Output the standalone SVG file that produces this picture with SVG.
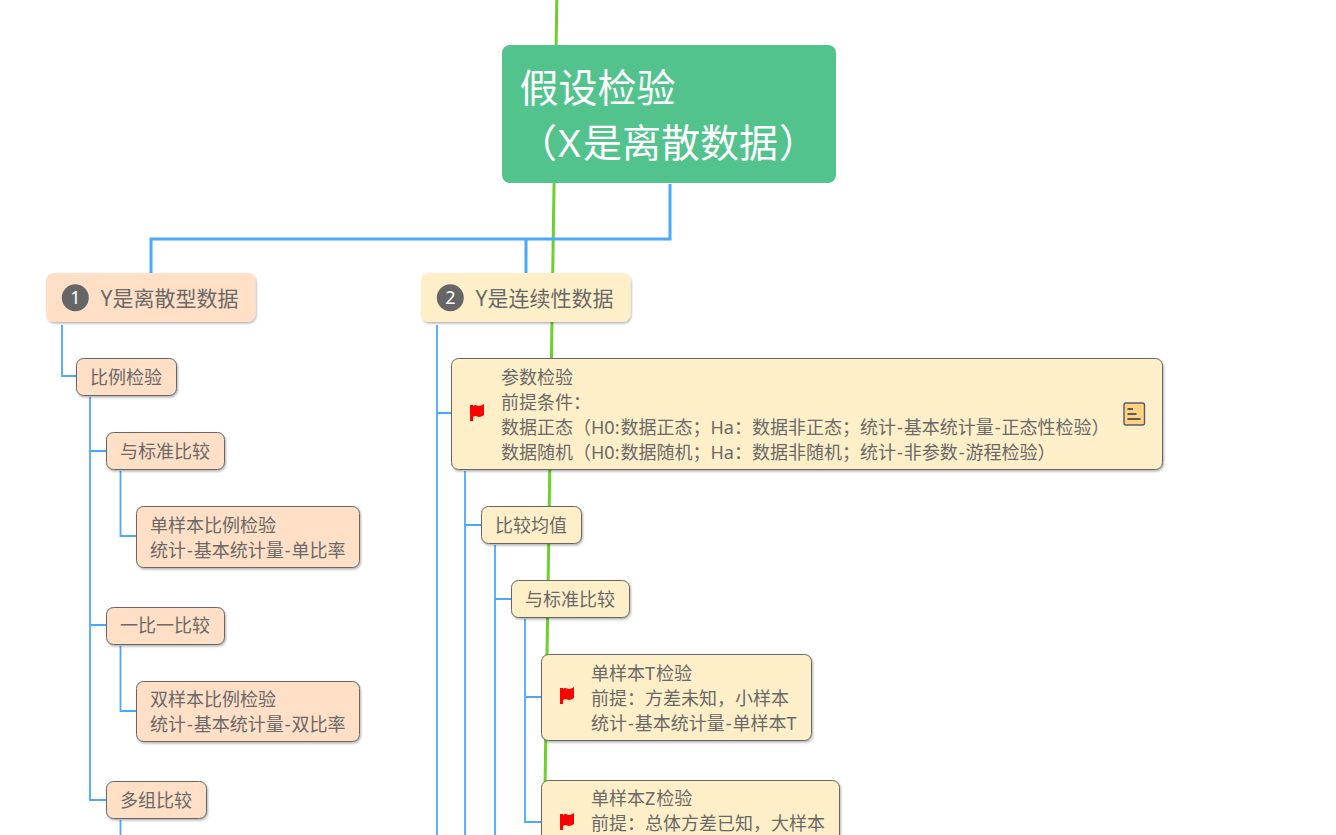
<svg xmlns="http://www.w3.org/2000/svg" width="1336" height="835" viewBox="0 0 1336 835">
<style>
text{font-family:"Noto Sans","Noto Sans CJK SC",sans-serif;fill:#696969;font-size:18px}
.n{stroke:#666;stroke-width:1;filter:url(#s)}
.o{fill:#ffdfc5}.y{fill:#ffefc8}
.c{fill:none;stroke:#4aa8ff;stroke-width:1.800}
.m{fill:none;stroke:#4aa8ff;stroke-width:3}
.b{fill:#666}
.f{fill:#f00}
.h{letter-spacing:1px}
.t{letter-spacing:1px}
.r{font-size:39px;fill:#fff}
.d{fill:#fff;font-size:18px}
.l{font-size:21px}
</style>
<defs>
<filter id="s" x="-5%" y="-10%" width="110%" height="125%"><feDropShadow dx="1" dy="1.5" stdDeviation="1" flood-color="#000" flood-opacity="0.3"/></filter>
<path id="flag" class="f" d="M0 0h3v1c3-2 4 0 6 0s3-1 5-2v11c-2 1-3 2-5 2s-3-2-6 0v4h-3z"/>
</defs>
<g id="connectors">
<path d="M556.800 0L544.300 835" fill="none" stroke="#6fcf2e" stroke-width="3"/>
<path class="m" d="M670 184V239H151V273M526 239V273"/>
<path class="c" d="M62 325V376H77M90 397V800H107M90 451H107M90 625H107M120.500 471V536H137M120.500 646V711H137M120.500 820V835"/>
<path class="c" d="M437 325V835M437 413H452M465 471V835M465 525H482M495 545V835M495 599H512M525 619V822H542M525 697H542"/>
</g>
<g id="root"><rect x="502" y="45" width="334" height="138" rx="8" fill="#52c38d"/>
<text x="519.500" y="102" class="r">假设检验</text>
<text y="157" class="r"><tspan x="518">（</tspan><tspan x="558">X</tspan><tspan x="583">是离散数据</tspan><tspan x="779">）</tspan></text></g>
<g id="n1"><rect x="46" y="273" width="209.500" height="49" rx="8" class="o" filter="url(#s)"/><circle cx="75.300" cy="297.700" r="13.500" class="b"/><text x="75.300" y="304" text-anchor="middle" class="d">1</text><text x="100.500" y="306" class="l">Y是离散型数据</text></g>
<g id="n2"><rect x="421" y="273" width="209.500" height="49" rx="8" class="y" filter="url(#s)"/><circle cx="450.300" cy="297.700" r="13.500" class="b"/><text x="450.300" y="304" text-anchor="middle" class="d">2</text><text x="475.500" y="306" class="l">Y是连续性数据</text></g>
<g id="a1"><rect x="76.500" y="358.500" width="100" height="37" rx="7" class="n o"/><text x="90" y="384">比例检验</text></g>
<g id="a2"><rect x="106.500" y="432.500" width="118" height="37" rx="7" class="n o"/><text x="120" y="458">与标准比较</text></g>
<g id="a3"><rect x="136.500" y="506.500" width="223" height="61" rx="7" class="n o"/><text x="150" y="532">单样本比例检验</text><text x="150" y="557">统计<tspan class="h" dx="1">-</tspan>基本统计量<tspan class="h" dx="1">-</tspan>单比率</text></g>
<g id="a4"><rect x="106.500" y="607.500" width="118" height="37" rx="7" class="n o"/><text x="120" y="632">一比一比较</text></g>
<g id="a5"><rect x="136.500" y="681.500" width="223" height="60" rx="7" class="n o"/><text x="150" y="706">双样本比例检验</text><text x="150" y="731">统计<tspan class="h" dx="1">-</tspan>基本统计量<tspan class="h" dx="1">-</tspan>双比率</text></g>
<g id="a6"><rect x="106.500" y="781.500" width="100" height="37" rx="7" class="n o"/><text x="120" y="807">多组比较</text></g>
<g id="b1"><rect x="451.500" y="358.500" width="711" height="111" rx="7" class="n y"/><use href="#flag" x="470" y="405"/>
<text x="501" y="384">参数检验</text><text x="501" y="409">前提条件：</text><text x="501" y="434">数据正态（H0<tspan class="t">:</tspan>数据正态；Ha：数据非正态；统计<tspan class="h" dx="1">-</tspan>基本统计量<tspan class="h" dx="1">-</tspan>正态性检验）</text><text x="501" y="459">数据随机（H0<tspan class="t">:</tspan>数据随机；Ha：数据非随机；统计<tspan class="h" dx="1">-</tspan>非参数<tspan class="h" dx="1">-</tspan>游程检验）</text>
<rect x="1124" y="403" width="20.500" height="22" rx="2" fill="#fed27f" stroke="#555a70" stroke-width="1.400"/><path d="M1127.500 409h5.500M1127.500 414h9M1127.500 419h13" stroke="#2a3050" stroke-width="1.300" fill="none"/></g>
<g id="b2"><rect x="481.500" y="506.500" width="100" height="37" rx="7" class="n y"/><text x="495" y="532">比较均值</text></g>
<g id="b3"><rect x="511.500" y="580.500" width="118" height="37" rx="7" class="n y"/><text x="525" y="606">与标准比较</text></g>
<g id="b4"><rect x="541.500" y="654.500" width="270" height="86" rx="7" class="n y"/><use href="#flag" x="560" y="688"/><text x="591" y="680">单样本<tspan class="t">T</tspan>检验</text><text x="591" y="705">前提：方差未知，小样本</text><text x="591" y="730">统计<tspan class="h" dx="1">-</tspan>基本统计量<tspan class="h" dx="1">-</tspan>单样本T</text></g>
<g id="b5"><rect x="541.500" y="780.500" width="298" height="86" rx="7" class="n y"/><use href="#flag" x="560" y="814"/><text x="591" y="805">单样本<tspan class="t">Z</tspan>检验</text><text x="591" y="830">前提：总体方差已知，大样本</text></g>
</svg>
